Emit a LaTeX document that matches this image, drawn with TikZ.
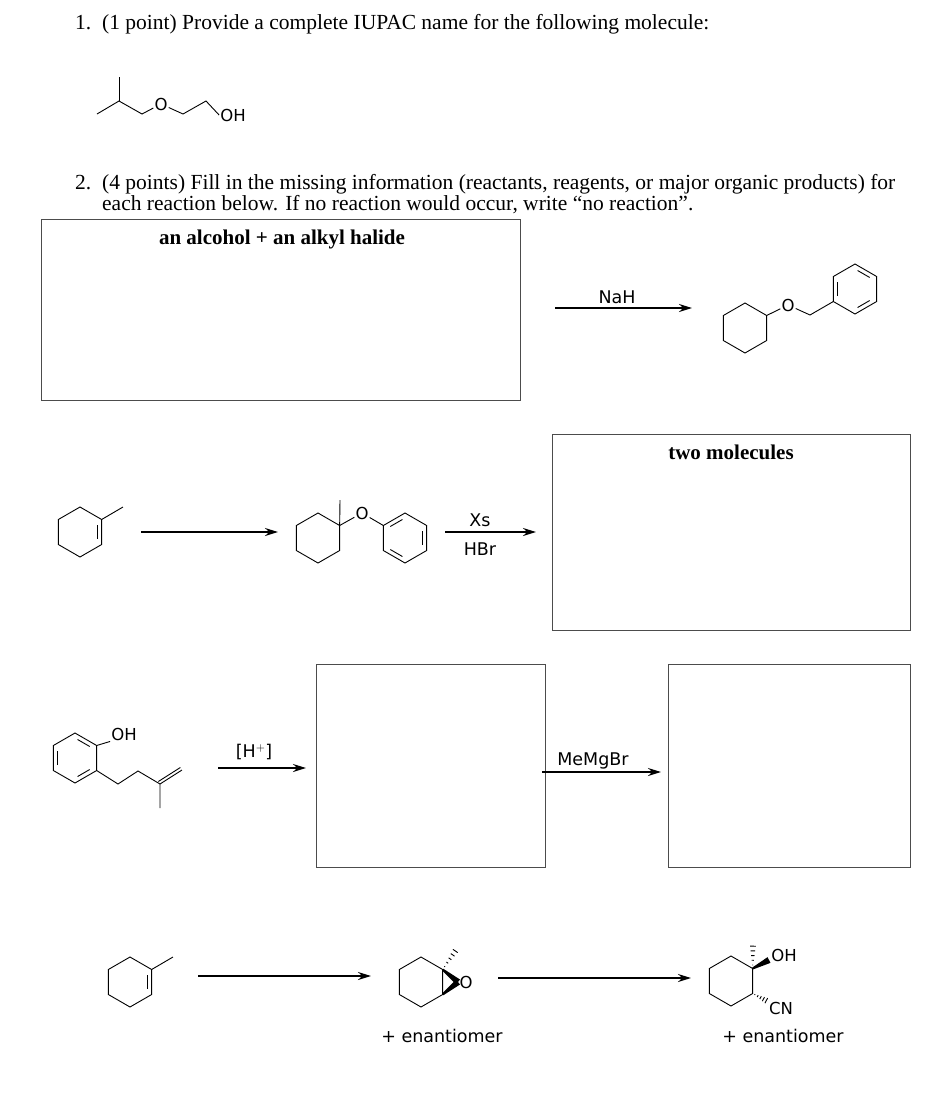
\documentclass[tikz,border=0pt]{standalone}
\usepackage{fontspec}
\setmainfont{Liberation Serif}
\newfontfamily\lab{DejaVu Sans}
\usetikzlibrary{calc,arrows.meta}
\newcommand\hexring[4]{% name, cx, cy, rotation offset
  \foreach \i in {1,...,6}{\coordinate (#1\i) at ($(#2,#3)+({90+#4-60*(\i-1)}:25pt)$);}
  \coordinate (#1c) at (#2,#3);
  \draw[bond] (#11)--(#12)--(#13)--(#14)--(#15)--(#16)--cycle;}
\newcommand\inner[3]{\draw[bond,shorten <=3pt,shorten >=3pt] ($(#1)!0.2!(#3)$)--($(#2)!0.2!(#3)$);}
\newcommand\hashb[2]{\foreach \t in {0.15,0.35,0.55,0.75,0.95}{\draw[line width=0.9pt] ($(#1)!\t!(#2)+($(#1)!\t*3pt!90:(#2)$)-(#1)$)--($(#1)!\t!(#2)-($(#1)!\t*3pt!90:(#2)$)+(#1)$);}}
\newcommand\wedgeb[2]{\fill ($(#1)!1pt!90:(#2)$)--($(#1)!1pt!-90:(#2)$)--($(#2)!3.2pt!90:(#1)$)--($(#2)!3.2pt!-90:(#1)$)--cycle;}
\begin{document}
\begin{tikzpicture}[x=1pt,y=-1pt,
  bond/.style={line width=0.9pt},
  rxn/.style={line width=1.8pt,-{Stealth[length=13pt,width=8pt]}},
  atom/.style={font=\lab\fontsize{16.5}{19}\selectfont,inner sep=1pt},
  rlab/.style={font=\lab\fontsize{17.5}{20}\selectfont,inner sep=1pt},
  ttl/.style={font=\fontsize{21.5}{25}\selectfont,anchor=base west,inner sep=0pt},
  box/.style={draw=black!70,line width=0.7pt},
  boxt/.style={font=\fontsize{21}{25}\selectfont\bfseries,inner sep=0pt}]
\useasboundingbox (0,0) rectangle (944,1096);
% headings
\node[ttl] (n1) at (75,29) {1.};
\node[ttl] (q1) at (102,29) {(1 point) Provide a complete IUPAC name for the following molecule:};
\node[ttl] (n2) at (75,189) {2.};
\node[ttl] (q2a) at (102,189) {(4 points) Fill in the missing information (reactants, reagents, or major organic products) for};
\node[ttl] (q2b) at (102,210) {each reaction below. If no reaction would occur, write “no reaction”.};
% molecule 1
\node[atom] (o1) at (161,104) {O};
\node[atom] (oh1) at (233,115) {OH};
\coordinate (m1a) at (97,114); \coordinate (m1b) at (119,101); \coordinate (m1c) at (119,77);
\coordinate (m1d) at (142,114); \coordinate (m1e) at (183,114); \coordinate (m1f) at (206,101);
\draw[bond] (m1a)--(m1b)--(m1d)--(o1); \draw[bond] (m1b)--(m1c);
\draw[bond] (o1)--(m1e)--(m1f)--(oh1.west);
% boxes
\draw[box] (41,219) rectangle (520,400);
\node[boxt] (b1t) at (282,239) {an alcohol + an alkyl halide};
\draw[box] (552,434) rectangle (910,630);
\node[boxt] (b2t) at (731,452) {two molecules};
\draw[box] (316,664) rectangle (545,867);
\draw[box] (668,664) rectangle (910,867);
% row 1 product
\coordinate (a1s) at (555,308); \coordinate (a1e) at (692,308);
\draw[rxn] (a1s)--(a1e);
\node[rlab] (nah) at (617,297) {NaH};
\hexring{ra}{745}{328}{0}
\node[atom] (o2) at (788,305) {O};
\coordinate (ch2) at (810,315);
\hexring{rb}{855}{289}{0}
\inner{rb1}{rb2}{rbc}\inner{rb3}{rb4}{rbc}\inner{rb5}{rb6}{rbc}
\draw[bond] (ra2)--(o2)--(ch2)--(rb5);
% row 2
\hexring{rc}{80}{532}{0}
\inner{rc2}{rc3}{rcc}
\coordinate (rcm) at (123,507); \draw[bond] (rc2)--(rcm);
\coordinate (a2s) at (141,532); \coordinate (a2e) at (278,532);
\draw[rxn] (a2s)--(a2e);
\hexring{rd}{318}{538}{0}
\coordinate (rdm) at (340,500); \draw[bond] (rd2)--(rdm);
\node[atom] (o3) at (362,513) {O};
\hexring{re}{405}{538}{0}
\inner{re2}{re3}{rec}\inner{re4}{re5}{rec}\inner{re6}{re1}{rec}
\draw[bond] (rd2)--(o3)--(re6);
\coordinate (a3s) at (445,532); \coordinate (a3e) at (536,532);
\draw[rxn] (a3s)--(a3e);
\node[rlab] (xs) at (480,520) {Xs};
\node[rlab] (hbr) at (480,549) {HBr};
% row 3
\hexring{rf}{75}{758}{0}
\inner{rf1}{rf2}{rfc}\inner{rf3}{rf4}{rfc}\inner{rf5}{rf6}{rfc}
\node[atom] (oh3) at (124,734) {OH};
\draw[bond] (rf2)--(oh3.south west);
\coordinate (c3a) at (118,784); \coordinate (c3b) at (138,771); \coordinate (c3c) at (160,784);
\coordinate (c3d) at (182,770); \coordinate (c3e) at (160,808);
\draw[bond] (rf3)--(c3a)--(c3b)--(c3c)--(c3e); \draw[bond] (c3c)--(c3d);
\draw[bond] ($(c3c)!3pt!90:(c3d)$)--($(c3d)!3pt!-90:(c3c)$);
\coordinate (a4s) at (218,768); \coordinate (a4e) at (306,768);
\draw[rxn] (a4s)--(a4e);
\node[rlab] (hp) at (254,752) {[H$^{+}$]};
\coordinate (a5s) at (542,772); \coordinate (a5e) at (661,772);
\draw[rxn] (a5s)--(a5e);
\node[rlab] (mg) at (593,761) {MeMgBr};
% row 4
\hexring{rg}{130}{982}{0}
\inner{rg2}{rg3}{rgc}
\coordinate (rgm) at (173,957); \draw[bond] (rg2)--(rgm);
\coordinate (a6s) at (198,976); \coordinate (a6e) at (371,976);
\draw[rxn] (a6s)--(a6e);
\hexring{rh}{421}{982}{0}
\node[atom] (o4) at (466,982) {O};
\coordinate (o4w) at (458,982);
\wedgeb{rh2}{o4w}\wedgeb{rh3}{o4w}
\coordinate (rhm) at (456,950); \hashb{rh2}{rhm}
\node[rlab] (en1) at (442,1036) {+ enantiomer};
\coordinate (a7s) at (498,978); \coordinate (a7e) at (691,978);
\draw[rxn] (a7s)--(a7e);
\hexring{ri}{731}{981}{0}
\coordinate (rim) at (753,945); \hashb{ri2}{rim}
\node[atom] (oh4) at (784,955) {OH};
\coordinate (ohw) at (769,960); \wedgeb{ri2}{ohw}
\node[atom] (cn) at (781,1008) {CN};
\coordinate (cnw) at (767,1001); \hashb{ri3}{cnw}
\node[rlab] (en2) at (783,1036) {+ enantiomer};
\end{tikzpicture}
\end{document}
